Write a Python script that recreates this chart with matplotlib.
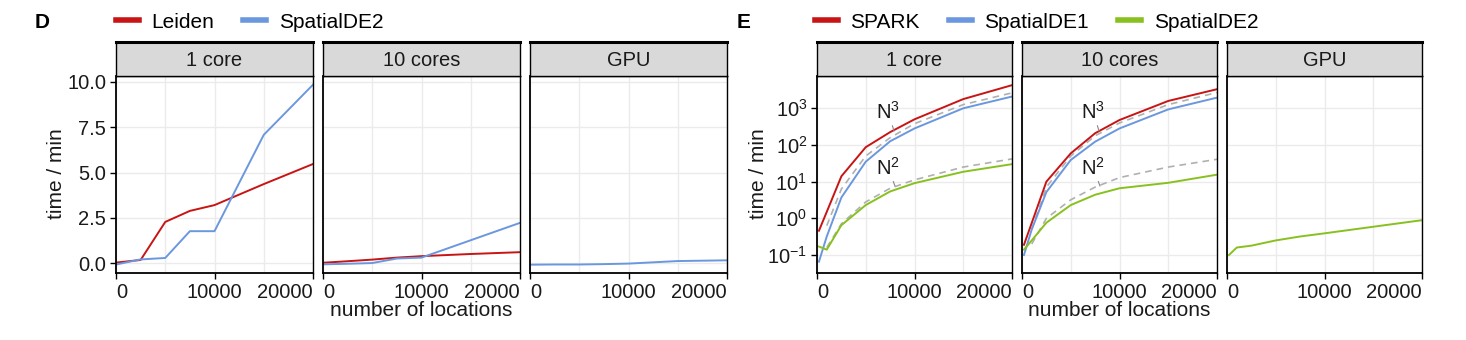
import matplotlib.pyplot as plt
from matplotlib.lines import Line2D
import numpy as np

plt.rcParams['font.family'] = ['Liberation Sans', 'DejaVu Sans']
plt.rcParams['mathtext.fontset'] = 'custom'
plt.rcParams['mathtext.rm'] = 'Liberation Sans'
plt.rcParams['mathtext.it'] = 'Liberation Sans:italic'

W, H = 1466, 340

RED = '#c81414'
BLUE = '#6b97df'
GREEN = '#88c11f'
DASH = '#b0b0b0'
GRID = '#ebebeb'

facets = ["1 core", "10 cores", "GPU"]

# panel D: time / min (linear)
d_x = [100, 2500, 5000, 7500, 10000, 15000, 20000]
d_leiden_1core = [0.03, 0.17, 2.27, 2.88, 3.2, 4.36, 5.47]
d_leiden_10cores = [0.02, 0.1, 0.19, 0.3, 0.38, 0.5, 0.6]
d_sde2_1core = [-0.07, 0.2, 0.28, 1.76, 1.76, 7.08, 9.85]
d_sde2_10cores = [-0.07, -0.04, 0.0, 0.25, 0.3, 1.26, 2.22]
d_sde2_gpu = [-0.09, -0.08, -0.08, -0.06, -0.03, 0.11, 0.15]

# panel E: time / min (log)
e_x = [200, 1000, 2500, 5000, 7500, 10000, 15000, 20000]
e_spark_1core = [0.46, 1.5, 14, 87, 224, 500, 1780, 4270]
e_spark_10cores = [0.19, 0.75, 10, 59, 209, 479, 1585, 3311]
e_sde1_1core = [0.066, 0.32, 3.7, 35, 126, 282, 1000, 2090]
e_sde1_10cores = [0.1, 0.5, 5.2, 39, 123, 282, 933, 1950]
e_sde2_1core = [0.17, 0.14, 0.65, 2.3, 5.4, 9.1, 18.6, 30]
e_sde2_10cores = [0.14, 0.25, 0.76, 2.3, 4.4, 6.6, 9.3, 15.5]
e_sde2_gpu = [0.1, 0.16, 0.18, 0.25, 0.32, 0.39, 0.59, 0.89]

# fitted reference curves (dashed)
fit_x = [1000, 2500, 5000, 7500, 10000, 15000, 20000]
fit_n3_1core = [0.63, 6.3, 50, 158, 380, 1260, 2630]
fit_n3_10cores = [0.5, 7.1, 50, 178, 398, 1260, 2690]
fit_n2_1core = [0.16, 0.71, 2.8, 6.6, 11.2, 25, 41.7]
fit_n2_10cores = [0.2, 1.0, 3.2, 7.1, 12.9, 25, 40.7]

x_ticks = [0, 10000, 20000]
x_ticklabels = ['0', '10000', '20000']

fig = plt.figure(figsize=(W / 100, H / 100), dpi=100)

top_px, strip_px, bottom_px = 42, 76, 273
TS = 14.5


def make_panel(left, width, title, first):
    ax = fig.add_axes([left / W, (H - bottom_px) / H, width / W, (bottom_px - strip_px) / H])
    st = fig.add_axes([left / W, (H - strip_px) / H, width / W, (strip_px - top_px) / H])
    st.set_facecolor('#d9d9d9')
    st.set_xticks([])
    st.set_yticks([])
    for s in st.spines.values():
        s.set_color('black')
        s.set_linewidth(1.0)
    st.spines['top'].set_linewidth(2.2)
    st.text(0.5, 0.45, title, ha='center', va='center', fontsize=TS, color='#1a1a1a',
            transform=st.transAxes)
    for s in ax.spines.values():
        s.set_color('black')
        s.set_linewidth(1.0)
    ax.spines['left'].set_linewidth(1.3)
    ax.spines['bottom'].set_linewidth(1.3)
    ax.set_xlim(0, 20000)
    ax.set_xticks(x_ticks)
    ax.set_xticklabels(x_ticklabels)
    # end labels sit inside the panel width like the original
    lbls = ax.get_xticklabels()
    lbls[0].set_ha('left')
    lbls[-1].set_ha('right')
    ax.set_xticks([5000, 15000], minor=True)
    ax.tick_params(which='minor', length=0)
    ax.tick_params(axis='both', which='major', direction='out', length=4, width=1.0,
                   labelsize=TS, colors='black', labelcolor='#1a1a1a', pad=3)
    if not first:
        ax.tick_params(axis='y', which='both', length=0, labelleft=False)
    ax.grid(True, which='both', color=GRID, lw=1.0)
    ax.set_axisbelow(True)
    return ax


# ---- panel D
d_lefts = [116, 323, 530]
d_leiden = [d_leiden_1core, d_leiden_10cores, None]
d_sde2 = [d_sde2_1core, d_sde2_10cores, d_sde2_gpu]
for i, f in enumerate(facets):
    ax = make_panel(d_lefts[i], 197, f, i == 0)
    ax.set_ylim(-0.55, 10.33)
    ax.set_yticks([0, 2.5, 5, 7.5, 10])
    ax.set_yticklabels(['0.0', '2.5', '5.0', '7.5', '10.0'])
    ax.set_yticks([], minor=True)
    if d_leiden[i] is not None:
        ax.plot(d_x, d_leiden[i], color=RED, lw=1.4)
    ax.plot(d_x, d_sde2[i], color=BLUE, lw=1.4)

# ---- panel E
e_lefts = [817, 1022, 1227]
e_spark = [e_spark_1core, e_spark_10cores, None]
e_sde1 = [e_sde1_1core, e_sde1_10cores, None]
e_sde2 = [e_sde2_1core, e_sde2_10cores, e_sde2_gpu]
fit_n3 = [fit_n3_1core, fit_n3_10cores, None]
fit_n2 = [fit_n2_1core, fit_n2_10cores, None]
for i, f in enumerate(facets):
    ax = make_panel(e_lefts[i], 195, f, i == 0)
    ax.set_yscale('log')
    ax.set_ylim(10 ** -1.49, 10 ** 3.88)
    ax.set_yticks([0.1, 1, 10, 100, 1000])
    ax.set_yticklabels(['$10^{-1}$', '$10^{0}$', '$10^{1}$', '$10^{2}$', '$10^{3}$'])
    ax.set_yticks([], minor=True)
    ax.tick_params(axis='y', which='minor', length=0)
    ax.grid(True, which='major', color=GRID, lw=1.0)
    ax.grid(True, which='minor', axis='x', color=GRID, lw=1.0)
    if fit_n3[i] is not None:
        ax.plot(fit_x, fit_n3[i], color=DASH, lw=1.2, dashes=(4, 3))
        ax.plot(fit_x, fit_n2[i], color=DASH, lw=1.2, dashes=(4, 3))
        ax.plot(e_x, e_spark[i], color=RED, lw=1.4)
        ax.plot(e_x, e_sde1[i], color=BLUE, lw=1.4)
    ax.plot(e_x, e_sde2[i], color=GREEN, lw=1.4)
    if fit_n3[i] is not None:
        ax.annotate('$\\mathrm{N}^3$', xy=(7900, 10 ** 2.38), xytext=(7300, 10 ** 2.9),
                    ha='center', va='center', fontsize=TS, color='#1a1a1a',
                    arrowprops=dict(arrowstyle='-', color='#888888', lw=0.8,
                                    shrinkA=6, shrinkB=0))
        ax.annotate('$\\mathrm{N}^2$', xy=(8000, 10 ** 0.88), xytext=(7300, 10 ** 1.38),
                    ha='center', va='center', fontsize=TS, color='#1a1a1a',
                    arrowprops=dict(arrowstyle='-', color='#888888', lw=0.8,
                                    shrinkA=6, shrinkB=0))

# ---- labels
fig.text(35 / W, 1 - 22 / H, 'D', fontsize=15, fontweight='bold', va='center', ha='left')
fig.text(737 / W, 1 - 22 / H, 'E', fontsize=15, fontweight='bold', va='center', ha='left')
fig.text(56 / W, 1 - 174 / H, 'time / min', rotation=90, fontsize=15, ha='center', va='center',
         color='#1a1a1a')
fig.text(758 / W, 1 - 174 / H, 'time / min', rotation=90, fontsize=15, ha='center', va='center',
         color='#1a1a1a')
fig.text(421 / W, 1 - 310 / H, 'number of locations', fontsize=15, ha='center', va='center',
         color='#1a1a1a')
fig.text(1119 / W, 1 - 310 / H, 'number of locations', fontsize=15, ha='center', va='center',
         color='#1a1a1a')

# ---- legends
h_d = [Line2D([], [], color=RED, lw=4), Line2D([], [], color=BLUE, lw=4)]
fig.legend(h_d, ['Leiden', 'SpatialDE2'], loc='center left', bbox_to_anchor=(116 / W, 1 - 22 / H),
           ncol=2, frameon=False, fontsize=15, handlelength=1.1, handletextpad=0.6,
           columnspacing=1.4, borderpad=0, borderaxespad=0)
h_e = [Line2D([], [], color=RED, lw=4), Line2D([], [], color=BLUE, lw=4),
       Line2D([], [], color=GREEN, lw=4)]
fig.legend(h_e, ['SPARK', 'SpatialDE1', 'SpatialDE2'], loc='center left',
           bbox_to_anchor=(815 / W, 1 - 22 / H), ncol=3, frameon=False, fontsize=15,
           handlelength=1.1, handletextpad=0.6, columnspacing=1.4, borderpad=0, borderaxespad=0)

fig.savefig('out.png', dpi=100, facecolor='white')
